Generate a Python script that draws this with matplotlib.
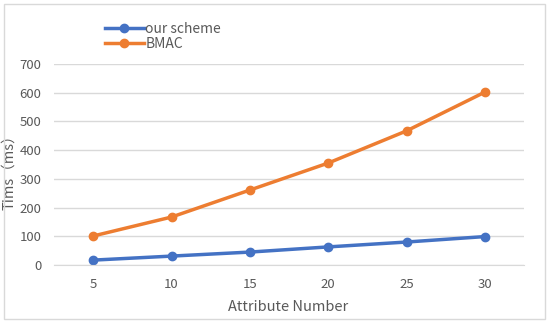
import matplotlib
matplotlib.use("Agg")
import matplotlib.pyplot as plt
from matplotlib.patches import Rectangle

plt.rcParams['font.family'] = ['Noto Sans CJK SC', 'DejaVu Sans']

# data
attributes = [5, 10, 15, 20, 25, 30]
our_scheme = [17, 31, 45, 63, 80, 99]
bmac = [101, 167, 261, 355, 467, 602]
yticks = [0, 100, 200, 300, 400, 500, 600, 700]

txt = '#595959'
grid = '#d9d9d9'

fig = plt.figure(figsize=(5.5, 3.27), dpi=100)
ax = fig.add_axes([54 / 550, 1 - 265 / 327, (524 - 54) / 550, (265 - 64) / 327])

# outer chart border like the office-style frame
fig.patches.append(Rectangle((4 / 550, 8 / 327), 541 / 550, 315 / 327,
                             transform=fig.transFigure, fill=False,
                             edgecolor='#d9d9d9', lw=1))

pos = list(range(len(attributes)))
ax.plot(pos, our_scheme, color='#4472c4', lw=2.5, marker='o', ms=6, label='our scheme')
ax.plot(pos, bmac, color='#ed7d31', lw=2.5, marker='o', ms=6, label='BMAC')

ax.set_xlim(-0.5, len(attributes) - 0.5)
ax.set_ylim(0, 700)
ax.set_yticks(yticks)
ax.set_xticks(pos)
ax.set_xticklabels([str(a) for a in attributes])
ax.grid(axis='y', color=grid, lw=1)
ax.set_axisbelow(True)
for s in ['top', 'right', 'left']:
    ax.spines[s].set_visible(False)
ax.spines['bottom'].set_color(grid)
ax.tick_params(length=0, colors=txt, labelsize=9.5)
ax.tick_params(axis='x', pad=9)
ax.tick_params(axis='y', pad=9)

ax.set_xlabel('Attribute Number', color=txt, fontsize=10.5)
ax.set_ylabel('Tims（ms）', color=txt, fontsize=10.5)
ax.xaxis.set_label_coords((288 - 54) / 470, -(300 - 265) / 201)
ax.yaxis.set_label_coords(-(54 - 16) / 470, (265 - 169) / 201)

fig.legend(loc='upper left', bbox_to_anchor=(98 / 550, 1 - 15 / 327), frameon=False,
           fontsize=10, labelcolor=txt, handlelength=2.8, handletextpad=0.1,
           labelspacing=0.05, borderpad=0)

fig.savefig('out.png', dpi=100)
